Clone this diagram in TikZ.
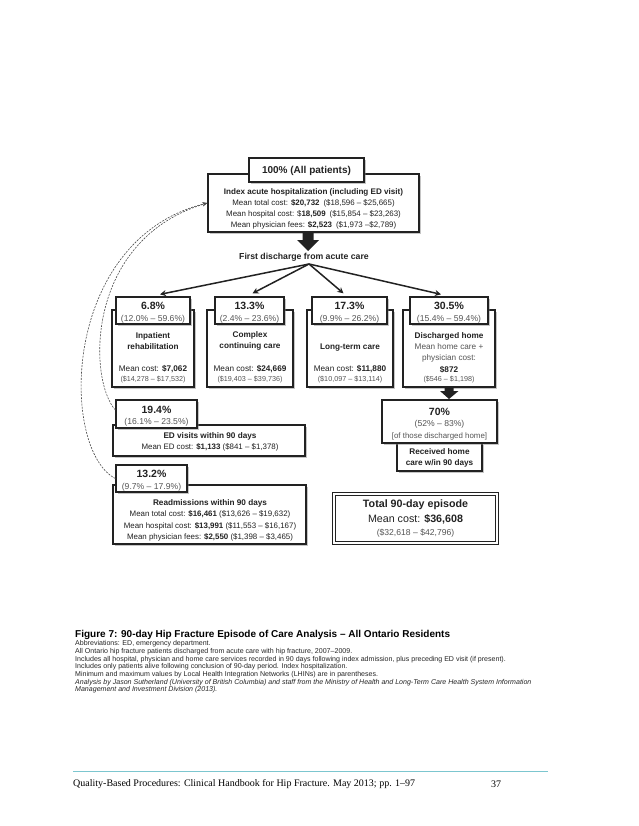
\documentclass[tikz,border=0pt]{standalone}
\usepackage{fontspec}
\setmainfont{Liberation Sans}
\newfontfamily\timesf{Liberation Serif}
\usetikzlibrary{shadows,arrows.meta}
\newcommand\fsz[2]{\fontsize{#1}{#2}\selectfont}
\definecolor{ink}{HTML}{222222}
\definecolor{rng}{HTML}{555555}
\definecolor{rule}{HTML}{7CC6CF}
\tikzset{
  boxst/.style={draw=ink, line width=1.3pt, fill=white, inner sep=0pt,
    drop shadow={shadow xshift=1.6pt, shadow yshift=-1.6pt, opacity=0.45}},
  tx/.style={inner sep=0pt, text=ink},
  pct/.style={tx, font=\fsz{10.5}{12}\bfseries},
  rg/.style={tx, text=rng, font=\fsz{8.6}{10}},
  lbl/.style={tx, font=\fsz{8.2}{11}\bfseries, align=center},
  cost/.style={tx, font=\fsz{8.2}{10}},
  rsm/.style={tx, text=rng, font=\fsz{7.2}{9}},
  mline/.style={tx, font=\fsz{7.9}{10}},
  fan/.style={draw=ink, line width=1.5pt, -{Stealth[length=6pt,width=6pt]}},
  dsh/.style={draw=ink!80, line width=0.6pt, dash pattern=on 2pt off 1.2pt, -{Stealth[length=5pt,width=4pt]}},
  blk/.style={fill=ink},
  note/.style={inner sep=0pt, anchor=west, font=\fsz{7.05}{8}, text=black!85}
}
\begin{document}
\begin{tikzpicture}[x=1pt,y=-1pt]
\useasboundingbox (0,0) rectangle (638,826);
\fill[white] (0,0) rectangle (638,826);

% main box
\node[boxst, minimum width=211pt, minimum height=58pt] (main) at (313.5,203) {};
\node[boxst, minimum width=115pt, minimum height=24pt] (maintab) at (306.5,170) {};
\node[tx, font=\fsz{10}{12}\bfseries] (maint) at (306.5,170.5) {100\% (All patients)};
\node[tx, font=\fsz{8.1}{10}\bfseries] (m1) at (313.5,192) {Index acute hospitalization (including ED visit)};
\node[mline] (m2) at (313.5,203) {Mean total cost: \textbf{\$20,732}\enspace(\$18,596 – \$25,665)};
\node[mline] (m3) at (313.5,214) {Mean hospital cost: \$\textbf{18,509}\enspace(\$15,854 – \$23,263)};
\node[mline] (m4) at (313.5,225) {Mean physician fees: \textbf{\$2,523}\enspace(\$1,973 –\$2,789)};

% thick arrow 1
\coordinate (a1) at (308,232);
\fill[blk] ([xshift=-5.5pt]a1) -- ++(11,0) -- ++(0,8) -- ++(5.5,0) -- (308,251) -- (297,240) -- ++(5.5,0) -- cycle;

\node[tx, font=\fsz{8.7}{10}\bfseries] (fd) at (304,257) {First discharge from acute care};
\coordinate (fo) at (309,264);

% four boxes
\node[boxst, minimum width=82pt, minimum height=77pt] (b1) at (153,348.5) {};
\node[boxst, minimum width=74pt, minimum height=27pt] (t1) at (153,310.5) {};
\node[boxst, minimum width=86pt, minimum height=77pt] (b2) at (250,348.5) {};
\node[boxst, minimum width=69pt, minimum height=27pt] (t2) at (249.5,310.5) {};
\node[boxst, minimum width=86pt, minimum height=77pt] (b3) at (350,348.5) {};
\node[boxst, minimum width=75pt, minimum height=27pt] (t3) at (349.5,310.5) {};
\node[boxst, minimum width=92pt, minimum height=77pt] (b4) at (449,348.5) {};
\node[boxst, minimum width=78pt, minimum height=27pt] (t4) at (449,310.5) {};

\draw[fan] (fo) -- ([xshift=7pt,yshift=2pt]t1.north);
\draw[fan] (fo) -- ([xshift=3pt,yshift=3pt]t2.north);
\draw[fan] (fo) -- ([xshift=-6pt,yshift=3pt]t3.north);
\draw[fan] (fo) -- ([xshift=-8pt,yshift=2pt]t4.north);

\node[pct] (p1) at (153,305.5) {6.8\%};
\node[rg] (r1) at (153,319.5) {(12.0\% – 59.6\%)};
\node[lbl] (l1) at (153,341) {Inpatient\\rehabilitation};
\node[cost] (c1) at (153,369.5) {Mean cost: \textbf{\$7,062}};
\node[rsm] (s1) at (153,380) {(\$14,278 – \$17,532)};

\node[pct] (p2) at (249.5,305.5) {13.3\%};
\node[rg] (r2) at (249.5,319.5) {(2.4\% – 23.6\%)};
\node[lbl] (l2) at (250,341) {Complex\\continuing care};
\node[cost] (c2) at (250,369.5) {Mean cost: \textbf{\$24,669}};
\node[rsm] (s2) at (250,380) {(\$19,403 – \$39,736)};

\node[pct] (p3) at (349.5,305.5) {17.3\%};
\node[rg] (r3) at (349.5,319.5) {(9.9\% – 26.2\%)};
\node[lbl] (l3) at (350,347.5) {Long-term care};
\node[cost] (c3) at (350,369.5) {Mean cost: \textbf{\$11,880}};
\node[rsm] (s3) at (350,380) {(\$10,097 – \$13,114)};

\node[pct] (p4) at (449,305.5) {30.5\%};
\node[rg] (r4) at (449,319.5) {(15.4\% – 59.4\%)};
\node[lbl] (l4) at (449,336.5) {Discharged home};
\node[tx, text=rng, font=\fsz{8.2}{10.8}, align=center] (h4) at (449,352.5) {Mean home care +\\physician cost:};
\node[cost] (c4) at (449,369.5) {\textbf{\$872}};
\node[rsm] (s4) at (449,380) {(\$546 – \$1,198)};

% thick arrow 2
\coordinate (a2) at (449,387);
\fill[blk] ([xshift=-4.5pt]a2) -- ++(9,0) -- ++(0,4) -- ++(5,0) -- (449,399) -- (440,391) -- ++(4.5,0) -- cycle;

% 70% box
\node[boxst, minimum width=85pt, minimum height=28pt] (hc) at (439.5,457) {};
\node[boxst, minimum width=115pt, minimum height=43pt] (sev) at (439.5,421.5) {};
\node[pct] (p5) at (439.5,411.5) {70\%};
\node[rg] (r5) at (439.5,424) {(52\% – 83\%)};
\node[tx, text=rng, font=\fsz{7.9}{10}] (o5) at (439.5,436.5) {[of those discharged home]};
\node[lbl, font=\fsz{8.2}{11.5}\bfseries] (l5) at (439.5,458) {Received home\\care w/in 90 days};

% 19.4% box
\node[boxst, minimum width=192pt, minimum height=31pt] (ed) at (209,440.5) {};
\node[boxst, minimum width=81pt, minimum height=28pt] (edt) at (156.5,414) {};
\node[pct] (p6) at (156.5,409.5) {19.4\%};
\node[rg] (r6) at (156.5,422) {(16.1\% – 23.5\%)};
\node[tx, font=\fsz{8.2}{10}\bfseries] (l6) at (210,436) {ED visits within 90 days};
\node[mline] (c6) at (210,447) {Mean ED cost: \textbf{\$1,133} (\$841 – \$1,378)};

% 13.2% box
\node[boxst, minimum width=193pt, minimum height=59pt] (ra) at (209.5,514.5) {};
\node[boxst, minimum width=71pt, minimum height=27pt] (rat) at (151.5,478.5) {};
\node[pct] (p7) at (151.5,474) {13.2\%};
\node[rg] (r7) at (151.5,487.5) {(9.7\% – 17.9\%)};
\node[tx, font=\fsz{8.2}{10}\bfseries] (l7) at (210,503) {Readmissions within 90 days};
\node[mline] (c7a) at (210,514.5) {Mean total cost: \textbf{\$16,461} (\$13,626 – \$19,632)};
\node[mline] (c7b) at (210,526) {Mean hospital cost: \textbf{\$13,991} (\$11,553 – \$16,167)};
\node[mline] (c7c) at (210,537) {Mean physician fees: \textbf{\$2,550} (\$1,398 – \$3,465)};

% total box
\node[boxst, double=white, double distance=2pt, line width=0.9pt, minimum width=163pt, minimum height=49pt] (tot) at (415.5,518.5) {};
\node[tx, font=\fsz{10.7}{12}\bfseries] (tt1) at (415.5,505) {Total 90-day episode};
\node[tx, font=\fsz{10.7}{12}] (tt2) at (415.5,519.5) {Mean cost: \textbf{\$36,608}};
\node[rg] (tt3) at (415.5,533.5) {(\$32,618 – \$42,796)};

% dashed returns
\draw[dsh] ([yshift=4pt]edt.west) .. controls (88,380) and (85,240) .. (main.west);
\draw[dsh] (rat.west) .. controls (60,450) and (60,240) .. (main.west);

% caption
\node[inner sep=0pt, anchor=west, font=\fsz{10}{11}\bfseries] (cap) at (75,635) {Figure 7: 90-day Hip Fracture Episode of Care Analysis – All Ontario Residents};
\node[note] (n1) at (75,644) {Abbreviations: ED, emergency department.};
\node[note] (n2) at (75,651.8) {All Ontario hip fracture patients discharged from acute care with hip fracture, 2007–2009.};
\node[note] (n3) at (75,659.4) {Includes all hospital, physician and home care services recorded in 90 days following index admission, plus preceding ED visit (if present).};
\node[note] (n4) at (75,667) {Includes only patients alive following conclusion of 90-day period. Index hospitalization.};
\node[note] (n5) at (75,674.6) {Minimum and maximum values by Local Health Integration Networks (LHINs) are in parentheses.};
\node[note, font=\fsz{7.05}{8}\itshape] (n6) at (75,682.2) {Analysis by Jason Sutherland (University of British Columbia) and staff from the Ministry of Health and Long-Term Care Health System Information};
\node[note, font=\fsz{7.05}{8}\itshape] (n7) at (75,689.8) {Management and Investment Division (2013).};

% footer
\coordinate (fl) at (73,771);
\coordinate (fr) at (548,771);
\draw[rule, line width=0.8pt] (fl) -- (fr);
\node[inner sep=0pt, anchor=west, font=\timesf\fsz{10}{11}] (ft) at (73,784) {Quality-Based Procedures: Clinical Handbook for Hip Fracture. May 2013; pp. 1–97};
\node[inner sep=0pt, font=\timesf\fsz{10}{11}] (pg) at (496,784) {37};
\end{tikzpicture}
\end{document}
